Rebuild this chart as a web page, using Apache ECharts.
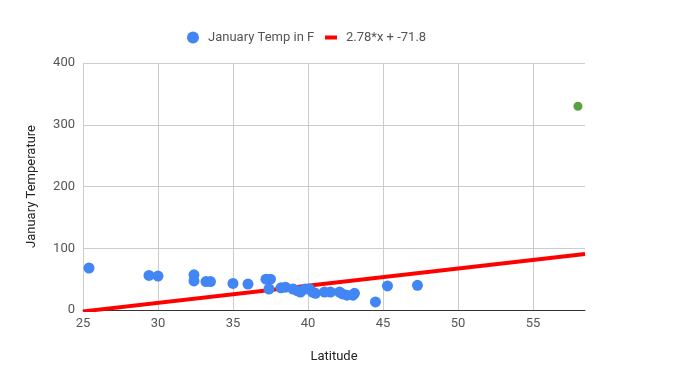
<!DOCTYPE html>
<html>
<head>
<meta charset="utf-8">
<script src="https://cdn.jsdelivr.net/npm/echarts@6/dist/echarts.min.js"></script>
<style>
  html, body { margin: 0; padding: 0; background: #fff; }
  #chart { width: 695px; height: 381px; }
</style>
</head>
<body>
<div id="chart"></div>
<script>
// Observations (latitude, January temperature in F)
const latitudes = [25.4, 29.4, 30.0, 32.4, 32.4, 33.2, 33.5, 35.0, 36.0, 37.2, 37.5, 37.4,
  38.2, 38.5, 39.0, 39.3, 39.5, 39.8, 40.1, 40.3, 40.5, 41.1, 41.5, 42.1, 42.3, 42.6,
  43.0, 43.1, 44.5, 45.3, 47.3];
const temps = [68, 56, 55, 57, 47, 46, 46, 43, 42, 50, 50, 34,
  36, 37, 34, 31, 29, 34, 34, 29, 27, 29, 29, 29, 26, 24,
  24, 27, 13, 39, 40];
// Outlier point (drawn in green)
const outlierLat = [58.0];
const outlierTemp = [330];
// Trendline from legend
const trendSlope = 2.78;
const trendIntercept = -71.8;
const trendLabel = '2.78*x + -71.8';
const seriesLabel = 'January Temp in F';
const xTicks = [25, 30, 35, 40, 45, 50, 55];
const yTicks = [0, 100, 200, 300, 400];

const xMin = 25, xMax = 58.47;

const scatterData = latitudes.map((x, i) => [x, temps[i]]);
const outlierData = outlierLat.map((x, i) => ({
  value: [x, outlierTemp[i]],
  symbolSize: 9,
  itemStyle: { color: '#5b9f43' }
}));
const trendData = [xMin, xMax].map(x => [x, trendSlope * x + trendIntercept]);

const chart = echarts.init(document.getElementById('chart'), null, { renderer: 'canvas' });
const font = 'Roboto, "Noto Sans", Arial, sans-serif';
chart.setOption({
  animation: false,
  textStyle: { fontFamily: font },
  grid: { left: 83, right: 110, top: 63, bottom: 71, containLabel: false },
  legend: [
    {
      data: [seriesLabel],
      left: 182, top: 26,
      icon: 'circle', itemWidth: 12, itemHeight: 12,
      textStyle: { fontSize: 13, color: '#555', fontFamily: font, padding: [0, 0, 0, 4] }
    },
    {
      data: [trendLabel],
      left: 320, top: 26,
      icon: 'rect', itemWidth: 12, itemHeight: 4,
      textStyle: { fontSize: 13, color: '#555', fontFamily: font, padding: [0, 0, 0, 4] }
    }
  ],
  xAxis: {
    type: 'value',
    min: xMin, max: xMax,
    name: 'Latitude',
    nameLocation: 'middle',
    nameGap: 40,
    nameTextStyle: { fontSize: 13, color: '#222', fontFamily: font },
    axisLine: { show: true, lineStyle: { color: '#333', width: 1 } },
    axisTick: { show: false, customValues: xTicks },
    axisLabel: { customValues: xTicks, fontSize: 13, color: '#555', margin: 7, fontFamily: font },
    splitLine: { show: true, lineStyle: { color: '#ccc', width: 1 } }
  },
  yAxis: {
    type: 'value',
    min: 0, max: 400, interval: 100,
    name: 'January Temperature',
    nameLocation: 'middle',
    nameGap: 45,
    nameRotate: 90,
    nameTextStyle: { fontSize: 13, color: '#222', fontFamily: font },
    axisLine: { show: false },
    axisTick: { show: false },
    axisLabel: { fontSize: 13, color: '#555', margin: 8, fontFamily: font },
    splitLine: { show: true, lineStyle: { color: '#ccc', width: 1 } }
  },
  series: [
    {
      name: seriesLabel,
      type: 'scatter',
      symbol: 'circle',
      symbolSize: 11,
      itemStyle: { color: '#4285f4', opacity: 1 },
      data: scatterData.concat(outlierData),
      z: 3
    },
    {
      name: trendLabel,
      type: 'line',
      data: trendData,
      showSymbol: false,
      symbol: 'none',
      clip: true,
      lineStyle: { color: '#ff0000', width: 4 },
      itemStyle: { color: '#ff0000' },
      z: 2
    }
  ]
});
</script>
</body>
</html>
